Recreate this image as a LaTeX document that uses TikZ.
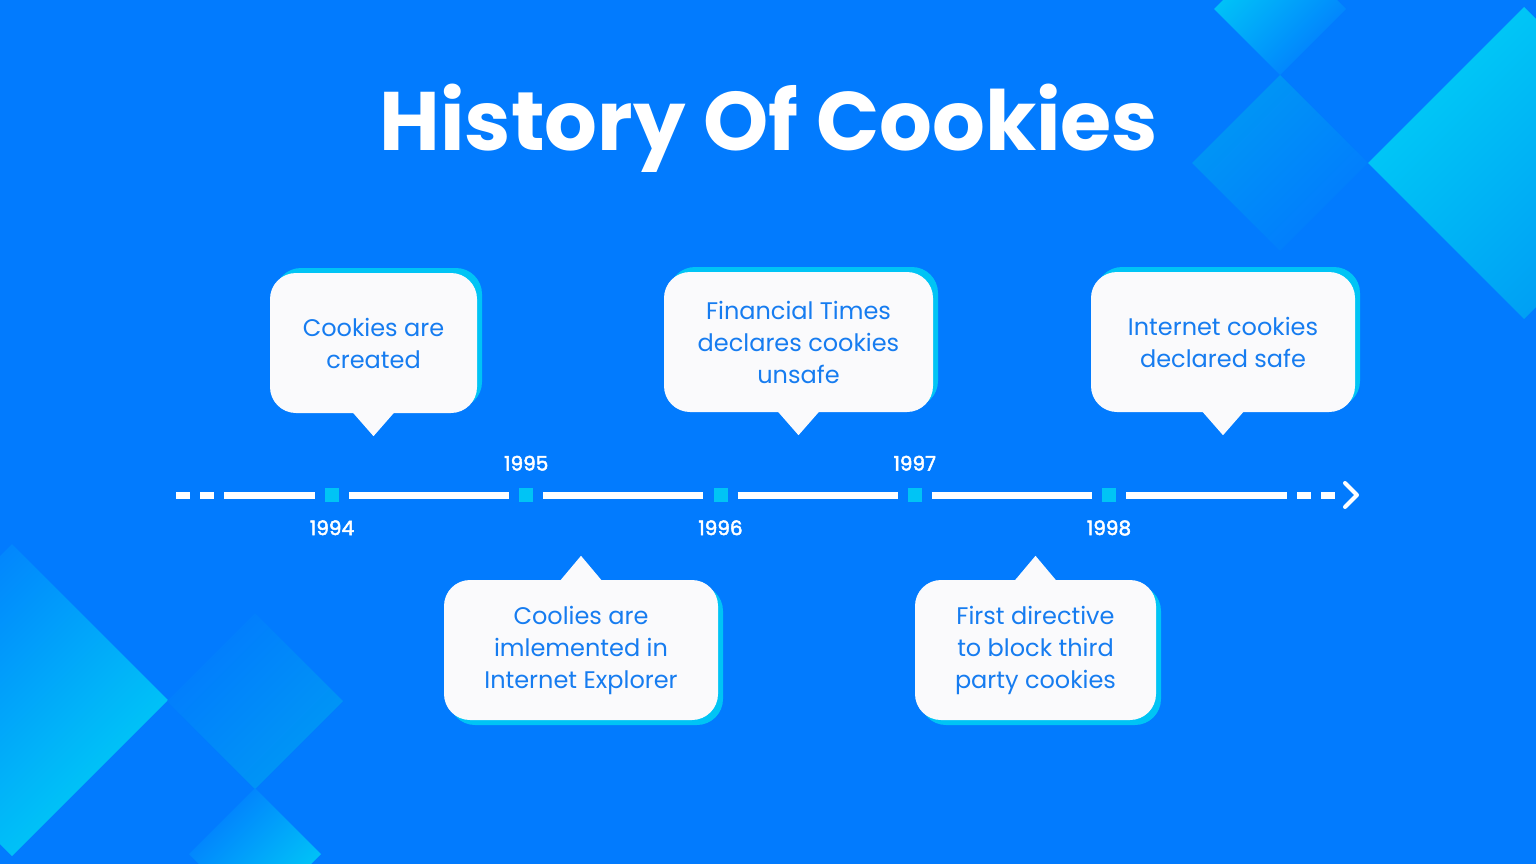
\documentclass[tikz,border=0pt]{standalone}
\usepackage{fontspec}
\setmainfont{Poppins}
\newfontfamily\yearfont[FakeBold=2.5]{Poppins}
\usepackage{xcolor}
\usetikzlibrary{positioning,calc,shadows}
\definecolor{bgblue}{RGB}{2,123,254}
\definecolor{decocyan}{RGB}{0,205,246}
\definecolor{decomid}{RGB}{0,152,244}
\definecolor{markcyan}{RGB}{0,196,245}
\definecolor{textblue}{RGB}{22,124,240}
\definecolor{boxwhite}{RGB}{250,250,252}

\begin{document}
\begin{tikzpicture}[x=1pt,y=-1pt,>=stealth]
\tikzstyle{bubble}=[rectangle,rounded corners=26pt,fill=boxwhite,align=center,inner sep=0pt,minimum height=140pt,text=textblue,font=\fontsize{24}{32}\selectfont]
\tikzstyle{topbubble}=[bubble,drop shadow={shadow xshift=5pt,shadow yshift=5pt,fill=markcyan,opacity=1}]
\tikzstyle{lowbubble}=[bubble,drop shadow={shadow xshift=5pt,shadow yshift=-5pt,fill=markcyan,opacity=1}]
\tikzstyle{marker}=[rectangle,fill=markcyan,inner sep=0pt,minimum size=14pt]
\tikzstyle{year}=[inner sep=0pt,text=white,font=\yearfont\fontsize{20}{24}\selectfont]
\tikzstyle{track}=[white,line width=7pt]

% background
\fill[bgblue] (0,0) rectangle (1536,864);
\useasboundingbox (0,0) rectangle (1536,864);
\begin{scope}
\clip (0,0) rectangle (1536,864);
% top right diamonds
\shade[left color=decocyan,right color=bgblue,shading angle=45] (1280,-57) -- (1346,9) -- (1280,75) -- (1214,9) -- cycle;
\shade[left color=decomid,right color=bgblue,shading angle=45] (1280,75) -- (1368,163) -- (1280,251) -- (1192,163) -- cycle;
\shade[left color=decocyan,right color=decomid,shading angle=45] (1524,7) -- (1680,163) -- (1524,319) -- (1368,163) -- cycle;
% bottom left diamonds
\shade[left color=bgblue,right color=decocyan,shading angle=45] (12,544) -- (168,700) -- (12,856) -- (-144,700) -- cycle;
\shade[left color=bgblue,right color=decomid,shading angle=45] (255,613) -- (343,701) -- (255,789) -- (167,701) -- cycle;
\shade[left color=bgblue,right color=decocyan,shading angle=45] (255,788) -- (321,854) -- (255,920) -- (189,854) -- cycle;
\end{scope}

% title
\node[text=white,font=\bfseries\fontsize{83}{88}\selectfont,anchor=base] (title) at (769,150) {History Of Cookies};

% timeline
\foreach \i in {1,...,5}
  \node[marker] (m\i) at ({332+194.25*(\i-1)},495) {};
\draw[track] (176,495) -- (190,495) (200,495) -- (214,495);
\draw[track] (224,495) -- ($(m1.west)+(-10,0)$);
\foreach \i/\j in {1/2,2/3,3/4,4/5}
  \draw[track] ($(m\i.east)+(10,0)$) -- ($(m\j.west)+(-10,0)$);
\draw[track] ($(m5.east)+(10,0)$) -- (1287,495);
\draw[track] (1297,495) -- (1311,495) (1321,495) -- (1335,495);
\draw[white,line width=4pt,line cap=round,line join=round] (1345,483) -- (1357,495) -- (1345,507);

\node[year, below=18pt of m1] (y1994) {1994};
\node[year, above=17pt of m2] (y1995) {1995};
\node[year, below=18pt of m3] (y1996) {1996};
\node[year, above=17pt of m4] (y1997) {1997};
\node[year, below=18pt of m5] (y1998) {1998};

% callouts
\node[topbubble, minimum width=207pt] (c1) at (373.5,343) {Cookies are\\created};
\node[topbubble, minimum width=269pt] (c2) at (798.5,342) {Financial Times\\declares cookies\\unsafe};
\node[topbubble, minimum width=264pt] (c3) at (1223,342) {Internet cookies\\declared safe};
\node[lowbubble, minimum width=274pt] (c4) at (581,650) {Coolies are\\imlemented in\\Internet Explorer};
\node[lowbubble, minimum width=241pt] (c5) at (1035.5,650) {First directive\\to block third\\party cookies};

\foreach \c in {c1,c2,c3}
  \fill[boxwhite] ($(\c.south)+(-21,-1)$) -- ($(\c.south)+(0,23)$) -- ($(\c.south)+(21,-1)$) -- cycle;
\foreach \c in {c4,c5}
  \fill[boxwhite] ($(\c.north)+(-21,1)$) -- ($(\c.north)+(0,-24)$) -- ($(\c.north)+(21,1)$) -- cycle;
\end{tikzpicture}
\end{document}
